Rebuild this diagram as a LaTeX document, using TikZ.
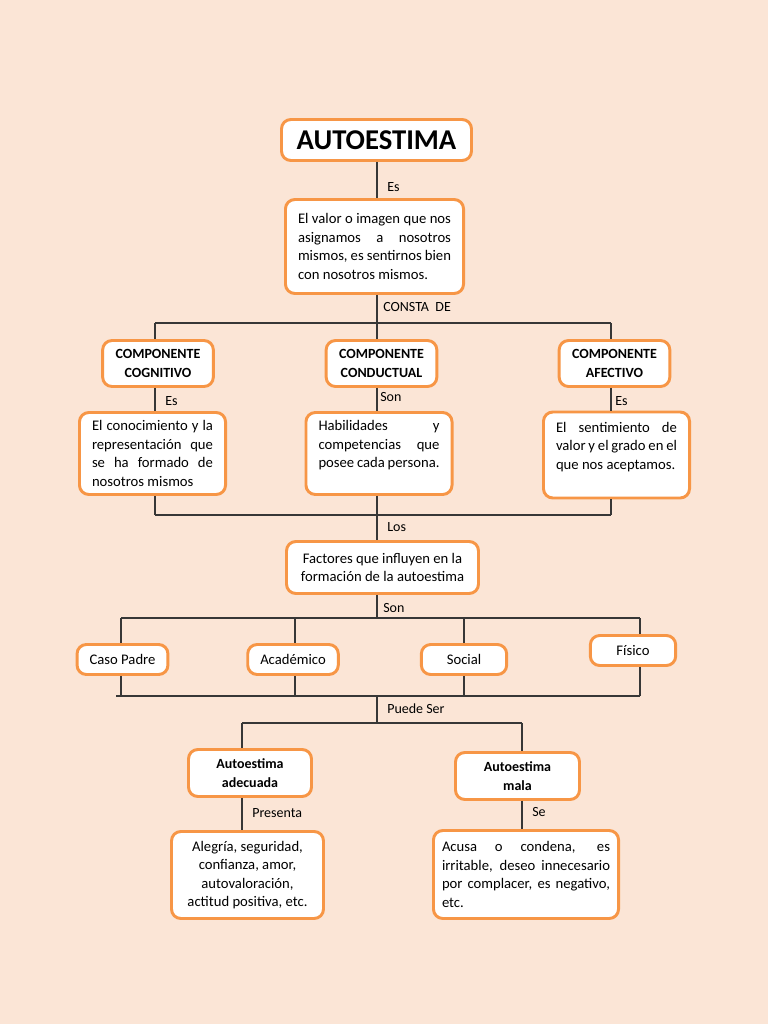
\documentclass[tikz,border=0pt]{standalone}
\usepackage{fontspec}
\setmainfont{Carlito}
\definecolor{fondo}{RGB}{251,229,214}
\definecolor{naranja}{RGB}{247,150,70}
\definecolor{linea}{RGB}{55,55,55}
\hyphenpenalty=10000
\begin{document}
\begin{tikzpicture}[x=0.75pt,y=-0.75pt,
  caja/.style={draw=naranja,line width=2.2pt,rounded corners=7pt,fill=white,inner xsep=9.4pt,inner ysep=3pt,font=\fontsize{11}{13.9}\selectfont},
  jcaja/.style={caja,align=justify,text width=#1},
  ccaja/.style={caja,align=center},
  cab/.style={caja,align=center,font=\fontsize{10.5}{14.2}\selectfont\bfseries,minimum width=83pt,minimum height=34.5pt},
  peq/.style={caja,minimum width=64pt,minimum height=22.5pt},
  etiq/.style={anchor=west,inner sep=0pt,font=\fontsize{10.5}{12}\selectfont},
  con/.style={draw=linea,line width=1.1pt}]
\fill[fondo] (0,0) rectangle (768,1024);
\node[caja,font=\fontsize{21.5}{25}\selectfont\bfseries,minimum width=142.5pt,minimum height=30.75pt] (auto) at (376.5,140) {AUTOESTIMA};
\node[jcaja=114.75pt,minimum height=70.5pt] (valor) at (374.5,246.5) {El valor o imagen que nos\linebreak asignamos a nosotros\linebreak mismos, es sentirnos bien\linebreak con nosotros mismos.};
\node[cab] (cog) at (158,363.5) {COMPONENTE\\COGNITIVO};
\node[cab] (cond) at (381.5,363.5) {COMPONENTE\\CONDUCTUAL};
\node[cab] (afe) at (614.5,363.5) {COMPONENTE\\AFECTIVO};
\node[jcaja=90.75pt,minimum height=61.5pt] (cogd) at (152.5,453.5) {El conocimiento y la\linebreak representación que\linebreak se ha formado de\linebreak nosotros mismos};
\node[jcaja=90.75pt,minimum height=61.5pt] (condd) at (379,453.5) {Habilidades y\linebreak competencias que\linebreak posee cada persona.\par\mbox{}};
\node[jcaja=90.75pt,minimum height=64.5pt] (afed) at (616.5,455) {El sentimiento de\linebreak valor y el grado en el\linebreak que nos aceptamos.\par\mbox{}};
\node[ccaja,minimum width=144pt,minimum height=39pt] (fact) at (382.5,567.5) {Factores que influyen en la\\formación de la autoestima};
\node[peq] (caso) at (122.5,659.5) {Caso Padre};
\node[peq] (acad) at (293,659.5) {Académico};
\node[peq] (soc) at (464,659.5) {Social};
\node[peq] (fis) at (633,650.5) {Físico};
\node[cab,minimum width=92.25pt,minimum height=35.25pt] (adec) at (250,773) {Autoestima\\adecuada};
\node[cab,minimum width=93pt,minimum height=35.25pt] (mala) at (517.5,776) {Autoestima\\mala};
\node[ccaja,minimum width=114pt,minimum height=65.25pt] (aleg) at (247.5,875) {Alegría, seguridad,\\confianza, amor,\\autovaloración,\\actitud positiva, etc.};
\node[jcaja=126pt,inner xsep=6.4pt,minimum height=66pt] (acus) at (526,874.5) {Acusa o condena, es\linebreak irritable, deseo innecesario\linebreak por complacer, es negativo,\linebreak etc.};
\coordinate (b1l) at (155,323);
\coordinate (b1m) at (377,323);
\coordinate (b1r) at (611,323);
\coordinate (b2l) at (155,515);
\coordinate (b2m) at (377,515);
\coordinate (b2r) at (611,515);
\coordinate (b3a) at (121,618);
\coordinate (b3b) at (295,618);
\coordinate (b3c) at (464,618);
\coordinate (b3d) at (640,618);
\coordinate (b3m) at (377,618);
\coordinate (b4a) at (116,696);
\coordinate (b4m) at (377,696);
\coordinate (b4d) at (640,696);
\coordinate (b5l) at (242,723);
\coordinate (b5m) at (377,723);
\coordinate (b5r) at (522,723);
\draw[con] (auto.south -| b1m) -- (valor.north -| b1m);
\draw[con] (valor.south -| b1m) -- (b1m);
\draw[con] (b1l) -- (b1r);
\draw[con] (b1l) -- (cog.north -| b1l);
\draw[con] (b1m) -- (cond.north -| b1m);
\draw[con] (b1r) -- (afe.north -| b1r);
\draw[con] (cog.south -| b1l) -- (cogd.north -| b1l);
\draw[con] (cond.south -| b1m) -- (condd.north -| b1m);
\draw[con] (afe.south -| b1r) -- (afed.north -| b1r);
\draw[con] (cogd.south -| b2l) -- (b2l);
\draw[con] (condd.south -| b2m) -- (b2m);
\draw[con] (afed.south -| b2r) -- (b2r);
\draw[con] (b2l) -- (b2r);
\draw[con] (b2m) -- (fact.north -| b2m);
\draw[con] (fact.south -| b3m) -- (b3m);
\draw[con] (b3a) -- (b3d);
\draw[con] (b3a) -- (caso.north -| b3a);
\draw[con] (b3b) -- (acad.north -| b3b);
\draw[con] (b3c) -- (soc.north -| b3c);
\draw[con] (b3d) -- (fis.north -| b3d);
\draw[con] (caso.south -| b3a) -- (b3a |- b4m);
\draw[con] (acad.south -| b3b) -- (b3b |- b4m);
\draw[con] (soc.south -| b3c) -- (b3c |- b4m);
\draw[con] (fis.south -| b3d) -- (b4d);
\draw[con] (b4a) -- (b4d);
\draw[con] (b4m) -- (b5m);
\draw[con] (b5l) -- (b5r);
\draw[con] (b5l) -- (adec.north -| b5l);
\draw[con] (b5r) -- (mala.north -| b5r);
\draw[con] (adec.south -| b5l) -- (aleg.north -| b5l);
\draw[con] (mala.south -| b5r) -- (acus.north -| b5r);
\node[etiq] (es1) at (387,187) {Es};
\node[etiq] (consta) at (383,307) {CONSTA\ \ DE};
\node[etiq] (es2) at (165,401) {Es};
\node[etiq] (son1) at (380,397) {Son};
\node[etiq] (es3) at (615,401) {Es};
\node[etiq] (los) at (387,527) {Los};
\node[etiq] (son2) at (383,608) {Son};
\node[etiq] (puede) at (387,709) {Puede Ser};
\node[etiq] (presenta) at (252,813) {Presenta};
\node[etiq] (se) at (532,812) {Se};
\end{tikzpicture}
\end{document}
